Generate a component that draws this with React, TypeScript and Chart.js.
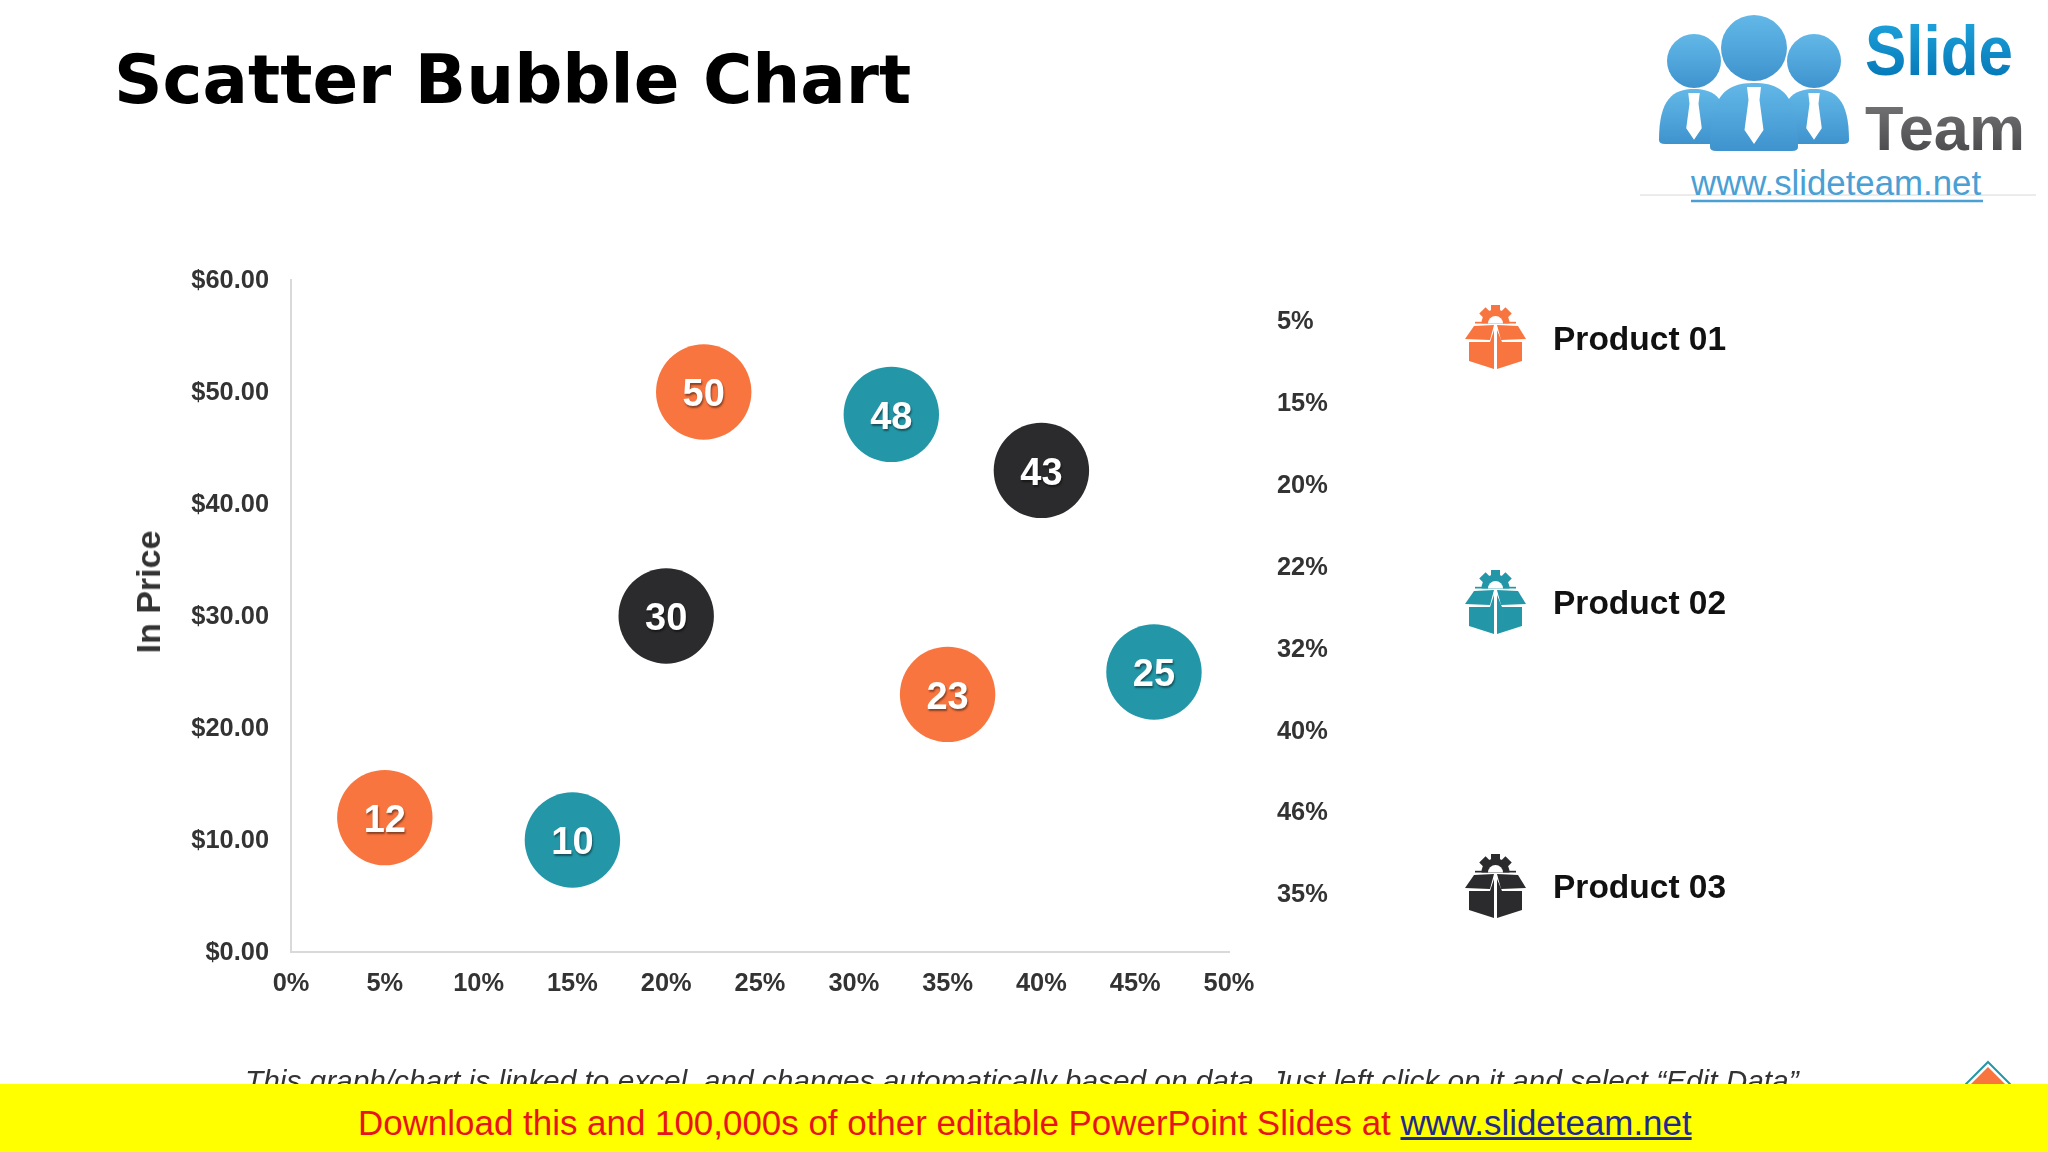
import React, { useEffect, useRef } from "react";
import { Chart, registerables } from "chart.js";

Chart.register(...registerables);

const productNames = ["Product 01", "Product 02", "Product 03"];
const productColors = ["#F8753F", "#2397A8", "#2B2B2D"];

const product01X = [5, 22, 35];
const product01Y = [12, 50, 23];
const product02X = [15, 32, 46];
const product02Y = [10, 48, 25];
const product03X = [20, 40];
const product03Y = [30, 43];

const xTickLabels = ["0%", "5%", "10%", "15%", "20%", "25%", "30%", "35%", "40%", "45%", "50%"];
const yTickLabels = ["$0.00", "$10.00", "$20.00", "$30.00", "$40.00", "$50.00", "$60.00"];
const sideLabels = ["5%", "15%", "20%", "22%", "32%", "40%", "46%", "35%"];

const FONT = "'Liberation Sans', Arial, sans-serif";

const toPoints = (xs: number[], ys: number[]) => xs.map((x, i) => ({ x, y: ys[i] }));

// white value in the middle of each bubble
const bubbleLabels = {
  id: "bubbleLabels",
  afterDatasetsDraw(chart: Chart) {
    const { ctx } = chart;
    chart.data.datasets.forEach((ds: any, d: number) => {
      chart.getDatasetMeta(d).data.forEach((el: any, i: number) => {
        ctx.save();
        ctx.font = `bold 38px ${FONT}`;
        ctx.fillStyle = "#fff";
        ctx.textAlign = "center";
        ctx.textBaseline = "middle";
        ctx.shadowColor = "rgba(0,0,0,0.45)";
        ctx.shadowOffsetX = 1;
        ctx.shadowOffsetY = 2;
        ctx.shadowBlur = 2;
        ctx.fillText(String(ds.data[i].y), el.x, el.y + 4);
        ctx.restore();
      });
    });
  },
};

const ProductIcon = ({ color, top }: { color: string; top: number }) => (
  <svg width={61} height={64} viewBox="0 0 61 64" style={{ position: "absolute", left: 1465, top }}>
    <g fill={color}>
      <path d="M16.5 18.5 A14 14 0 0 1 44.5 18.5 Z" />
      <rect x={10} y={16.8} width={41} height={1.7} />
      <rect x={26} y={0} width={9} height={8} />
      <rect x={26} y={0} width={9} height={8} transform="rotate(-45 30.5 18.5)" />
      <rect x={26} y={0} width={9} height={8} transform="rotate(45 30.5 18.5)" />
      <polygon points="0,34 9,21 29,20 25,35" />
      <polygon points="61,34 53,21 32,20 36,35" />
      <polygon points="4,37 25,37 29,25 29,64 4,56" />
      <polygon points="57,37 37,37 32,25 32,64 57,56" />
    </g>
    <path d="M23 18.5 A7.5 7.5 0 0 1 38 18.5 Z" fill="#fff" />
  </svg>
);

const Person = ({ cx, cy, r, bodyW, bodyTop, bodyBottom }: any) => {
  const s = r / 33;
  const t = bodyTop + 4;
  return (
    <g>
      <circle cx={cx} cy={cy} r={r} fill="url(#logoBlue)" />
      <path
        d={`M${cx - bodyW} ${bodyBottom - 4} C${cx - bodyW} ${bodyTop + 10} ${cx - bodyW * 0.6} ${bodyTop} ${cx} ${bodyTop} C${cx + bodyW * 0.6} ${bodyTop} ${cx + bodyW} ${bodyTop + 10} ${cx + bodyW} ${bodyBottom - 4} Q${cx + bodyW} ${bodyBottom} ${cx + bodyW - 6} ${bodyBottom} L${cx - bodyW + 6} ${bodyBottom} Q${cx - bodyW} ${bodyBottom} ${cx - bodyW} ${bodyBottom - 4} Z`}
        fill="url(#logoBlue)"
      />
      <path
        d={`M${cx - 7 * s} ${t} L${cx + 7 * s} ${t} L${cx + 5.5 * s} ${t + 13 * s} L${cx + 9.5 * s} ${t + 43 * s} L${cx} ${t + 57 * s} L${cx - 9.5 * s} ${t + 43 * s} L${cx - 5.5 * s} ${t + 13 * s} Z`}
        fill="#fff"
      />
    </g>
  );
};

const Logo = () => (
  <svg width={428} height={210} viewBox="1620 0 428 210" style={{ position: "absolute", left: 1620, top: 0 }}>
    <defs>
      <linearGradient id="logoBlue" x1="0" y1="0" x2="0" y2="1">
        <stop offset="0" stopColor="#63B8E8" />
        <stop offset="1" stopColor="#3E93CE" />
      </linearGradient>
      <linearGradient id="slideBlue" x1="0" y1="0" x2="0" y2="1">
        <stop offset="0" stopColor="#22A8E0" />
        <stop offset="1" stopColor="#0070B0" />
      </linearGradient>
      <linearGradient id="teamGrey" x1="0" y1="0" x2="0" y2="1">
        <stop offset="0" stopColor="#7A7A7C" />
        <stop offset="1" stopColor="#444446" />
      </linearGradient>
    </defs>
    <line x1={1640} y1={195} x2={2036} y2={195} stroke="#d8d8d8" strokeWidth={1} />
    <Person cx={1694} cy={61} r={27} bodyW={35} bodyTop={89} bodyBottom={144} />
    <Person cx={1814} cy={61} r={27} bodyW={35} bodyTop={89} bodyBottom={144} />
    <Person cx={1754} cy={48} r={33} bodyW={44} bodyTop={83} bodyBottom={151} />
    <text x={1865} y={75} fontFamily={FONT} fontWeight="bold" fontSize={70} textLength={148} lengthAdjust="spacingAndGlyphs" fill="url(#slideBlue)">Slide</text>
    <text x={1865} y={150} fontFamily={FONT} fontWeight="bold" fontSize={63} fill="url(#teamGrey)">Team</text>
    <text x={1691} y={195} fontFamily={FONT} fontSize={34.8} fill="#4A9FD4">www.slideteam.net</text>
    <line x1={1691} y1={201} x2={1983} y2={201} stroke="#4A9FD4" strokeWidth={2.5} />
  </svg>
);

export default function App() {
  const canvasRef = useRef<HTMLCanvasElement | null>(null);

  useEffect(() => {
    if (!canvasRef.current) return;

    const series = [toPoints(product01X, product01Y), toPoints(product02X, product02Y), toPoints(product03X, product03Y)];

    const chart = new Chart(canvasRef.current, {
      type: "bubble",
      data: {
        datasets: series.map((data, i) => ({
          label: productNames[i],
          data,
          backgroundColor: productColors[i],
          borderWidth: 0,
          radius: 47.7,
          hoverRadius: 47.7,
        })),
      },
      options: {
        responsive: false,
        devicePixelRatio: 1,
        animation: false,
        layout: { padding: { left: 129, top: 280, right: 819, bottom: 150 } },
        plugins: { legend: { display: false }, tooltip: { enabled: false } },
        scales: {
          x: {
            type: "linear",
            min: 0,
            max: 50,
            afterFit: (scale: any) => { scale.height = 50; },
            grid: { display: false },
            border: { color: "#d9d9d9", width: 2 },
            ticks: {
              stepSize: 5,
              padding: 9,
              maxRotation: 0,
              color: "#333",
              font: { family: FONT, size: 25.4, weight: "bold" },
              callback: (_v: any, i: number) => xTickLabels[i],
            },
          },
          y: {
            type: "linear",
            min: 0,
            max: 60,
            afterFit: (scale: any) => { scale.width = 162; },
            grid: { display: false },
            border: { color: "#d9d9d9", width: 2 },
            ticks: {
              stepSize: 10,
              padding: 14,
              labelOffset: 1,
              color: "#333",
              font: { family: FONT, size: 25.4, weight: "bold" },
              callback: (_v: any, i: number) => yTickLabels[i],
            },
          },
        },
      },
      plugins: [bubbleLabels],
    } as any);

    return () => chart.destroy();
  }, []);

  const legendIconTops = [305, 570, 854];
  const legendTextMids = [339, 603, 887];

  return (
    <div style={{ position: "absolute", left: 0, top: 0, width: 2048, height: 1152, overflow: "hidden", background: "#fff", fontFamily: FONT }}>
      <div style={{ position: "absolute", left: 114, top: 40, lineHeight: "80px", fontFamily: "'DejaVu Sans'", fontWeight: "bold", fontSize: 67.4, color: "#000", whiteSpace: "nowrap" }}>
        Scatter Bubble Chart
      </div>
      <Logo />

      <canvas ref={canvasRef} width={2048} height={1152} style={{ position: "absolute", left: 0, top: 0 }} />

      {/* axis title sits above the middle of the axis in the original, so not the scale's own title */}
      <div style={{ position: "absolute", left: 147.5, top: 592, lineHeight: "40px", fontSize: 34, fontWeight: "bold", color: "#333", whiteSpace: "nowrap", transform: "translate(-50%, -50%) rotate(-90deg)" }}>
        In Price
      </div>

      {sideLabels.map((label, i) => (
        <div key={i} style={{ position: "absolute", left: 1277, top: 320 + i * 81.9 - 15, lineHeight: "30px", fontSize: 25.4, fontWeight: "bold", color: "#333" }}>
          {label}
        </div>
      ))}

      {productNames.map((name, i) => (
        <React.Fragment key={name}>
          <ProductIcon color={productColors[i]} top={legendIconTops[i]} />
          <div style={{ position: "absolute", left: 1553, top: legendTextMids[i] - 20, lineHeight: "40px", fontSize: 33.5, fontWeight: "bold", color: "#111", whiteSpace: "nowrap" }}>
            {name}
          </div>
        </React.Fragment>
      ))}

      <div style={{ position: "absolute", left: 245, top: 1063, lineHeight: "36px", fontSize: 29.8, fontStyle: "italic", color: "#333", whiteSpace: "nowrap" }}>
        This graph/chart is linked to excel, and changes automatically based on data. Just left click on it and select “Edit Data”.
      </div>
      <svg width={90} height={40} viewBox="1945 1055 90 40" style={{ position: "absolute", left: 1945, top: 1055 }}>
        <polygon points="1988,1062 2022,1096 1954,1096" fill="#fff" stroke="#2397A8" strokeWidth={2} />
        <polygon points="1988,1067 2017,1096 1959,1096" fill="#F8753F" />
      </svg>

      <div style={{ position: "absolute", left: 0, top: 1084, width: 2048, height: 68, background: "#FFFF00" }} />
      <div style={{ position: "absolute", left: 358, top: 1103, lineHeight: "40px", fontSize: 34.93, color: "#E8141C", whiteSpace: "nowrap" }}>
        Download this and 100,000s of other editable PowerPoint Slides at{" "}
        <span style={{ color: "#1F2A8C", textDecoration: "underline" }}>www.slideteam.net</span>
      </div>
    </div>
  );
}
